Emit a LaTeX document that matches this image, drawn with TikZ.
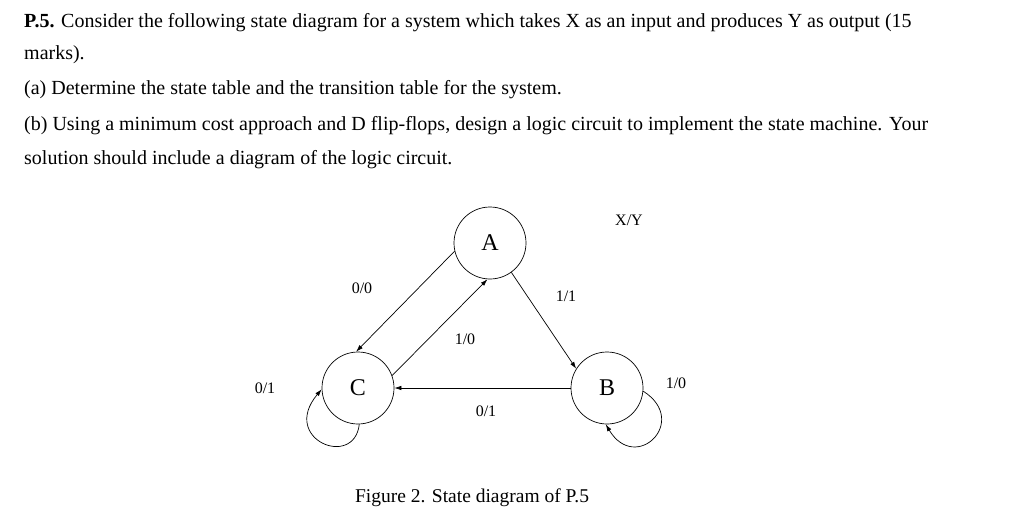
\documentclass[tikz,border=0pt]{standalone}
\usepackage{fontspec}
\setmainfont{Liberation Serif}
\usetikzlibrary{arrows.meta}

\begin{document}
\begin{tikzpicture}[x=1pt, y=1pt,
  state/.style={draw, circle, line width=0.7pt, minimum size=72pt, font=\fontsize{24}{26}\selectfont},
  transition/.style={->, >={Latex[length=7pt, width=4.5pt]}, line width=0.7pt},
  trlabel/.style={font=\fontsize{16}{18}\selectfont},
  textline/.style={anchor=base west, inner sep=0pt, font=\fontsize{20}{22}\selectfont}]

\useasboundingbox (0,0) rectangle (1018,-519);

% question text
\node[textline] (line_1) at (24,-28) {\textbf{P.5.} Consider the following state diagram for a system which takes X as an input and produces Y as output (15};
\node[textline] (line_2) at (24,-60) {marks).};
\node[textline] (line_3) at (24,-95) {(a) Determine the state table and the transition table for the system.};
\node[textline] (line_4) at (24,-130) {(b) Using a minimum cost approach and D flip-flops, design a logic circuit to implement the state machine. Your};
\node[textline] (line_5) at (24,-164) {solution should include a diagram of the logic circuit.};


% the three states
\node[state] (state_a) at (490,-243) {A};
\node[state] (state_b) at (607,-388) {B};
\node[state] (state_c) at (358,-388) {C};


% transitions between states
\draw[transition] (state_a.193) -- (state_c.93);
\draw[transition] (state_c.20) -- (state_a.266);
\draw[transition] (state_a.306) -- (state_b.148);
\draw[transition] (state_b) -- (state_c);

%self loops
\draw[transition] (state_c.272) .. controls +(-5,-45) and +(-42,-50) .. (state_c.182);
\draw[transition] (state_b.355) .. controls +(47,-30) and +(30,-50) .. (state_b.268);


% labels
\node[trlabel] (lbl_xy) at (629,-220) {X/Y};
\node[trlabel] (lbl_ac) at (362,-288) {0/0};
\node[trlabel] (lbl_ab) at (566,-296) {1/1};
\node[trlabel] (lbl_ca) at (465,-339) {1/0};
\node[trlabel] (lbl_bc) at (486,-411) {0/1};
\node[trlabel] (lbl_cc) at (265,-388) {0/1};
\node[trlabel] (lbl_bb) at (676,-383) {1/0};

\node[font=\fontsize{19.5}{21}\selectfont] (caption) at (472,-498) {Figure 2. State diagram of P.5};

\end{tikzpicture}
\end{document}
